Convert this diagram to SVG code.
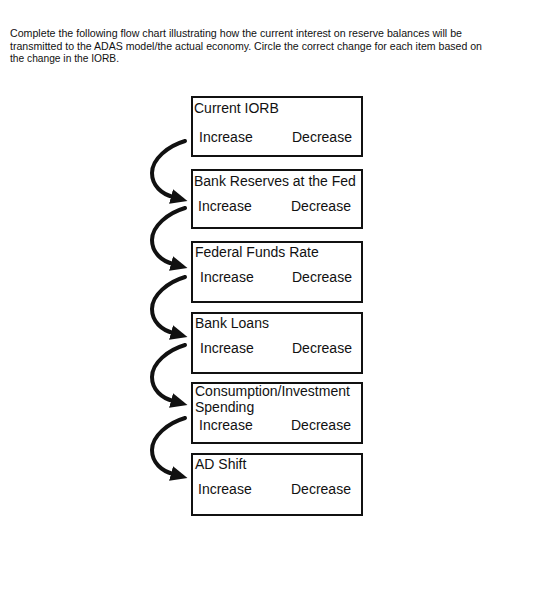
<svg xmlns="http://www.w3.org/2000/svg" width="553" height="610" viewBox="0 0 553 610">
<defs>
<style>
.hdr{font-family:"Liberation Sans","DejaVu Sans",sans-serif;font-size:10.5px;fill:#111}
.box{fill:#fff;stroke:#111;stroke-width:2}
.t{font-family:"Liberation Sans",Arial,sans-serif;font-size:14px;fill:#111}
.arr{fill:none;stroke:#111;stroke-width:4;stroke-linecap:round}
</style>
<marker id="ah" markerUnits="userSpaceOnUse" markerWidth="18" markerHeight="16" refX="2" refY="7.5" orient="auto">
<path d="M0,0 L17,7.5 L0,15 z" fill="#111"/>
</marker>
</defs>
<rect width="553" height="610" fill="#fff"/>
<g id="header">
<text class="hdr" x="10" y="37" textLength="452" lengthAdjust="spacingAndGlyphs">Complete the following flow chart illustrating how the current interest on reserve balances will be</text>
<text class="hdr" x="10" y="50" textLength="472" lengthAdjust="spacingAndGlyphs">transmitted to the ADAS model/the actual economy. Circle the correct change for each item based on</text>
<text class="hdr" x="10" y="62" textLength="109" lengthAdjust="spacingAndGlyphs">the change in the IORB.</text>
</g>
<g id="connectors">
<path class="arr" marker-end="url(#ah)" d="M185,141 C168,146 152,159 152,173 C152,186 162,194 173,197"/>
<path class="arr" marker-end="url(#ah)" d="M185,208 C168,213 152,226 152,240 C152,253 162,261 173,264"/>
<path class="arr" marker-end="url(#ah)" d="M185,277 C168,282 152,295 152,309 C152,322 162,330 173,333"/>
<path class="arr" marker-end="url(#ah)" d="M185,345 C168,350 152,363 152,377 C152,390 162,398 173,401"/>
<path class="arr" marker-end="url(#ah)" d="M185,418 C168,423 152,436 152,450 C152,463 162,471 173,474"/>
</g>
<g id="node-iorb">
<rect class="box" x="192" y="97" width="170" height="59"/>
<text class="t" x="194" y="113">Current IORB</text>
<text class="t" x="199" y="142">Increase</text>
<text class="t" x="292" y="142">Decrease</text>
</g>
<g id="node-reserves">
<rect class="box" x="192" y="170" width="170" height="58"/>
<text class="t" x="194" y="186">Bank Reserves at the Fed</text>
<text class="t" x="198" y="211">Increase</text>
<text class="t" x="291" y="211">Decrease</text>
</g>
<g id="node-ffr">
<rect class="box" x="192" y="242" width="170" height="60"/>
<text class="t" x="195" y="257">Federal Funds Rate</text>
<text class="t" x="200" y="282">Increase</text>
<text class="t" x="292" y="282">Decrease</text>
</g>
<g id="node-loans">
<rect class="box" x="192" y="313" width="170" height="60"/>
<text class="t" x="195" y="328">Bank Loans</text>
<text class="t" x="200" y="353">Increase</text>
<text class="t" x="292" y="353">Decrease</text>
</g>
<g id="node-spending">
<rect class="box" x="192" y="383" width="170" height="60"/>
<text class="t" x="195" y="396">Consumption/Investment</text>
<text class="t" x="195" y="412">Spending</text>
<text class="t" x="199" y="430">Increase</text>
<text class="t" x="291" y="430">Decrease</text>
</g>
<g id="node-ad">
<rect class="box" x="192" y="454" width="170" height="61"/>
<text class="t" x="195" y="469">AD Shift</text>
<text class="t" x="198" y="494">Increase</text>
<text class="t" x="291" y="494">Decrease</text>
</g>
</svg>
